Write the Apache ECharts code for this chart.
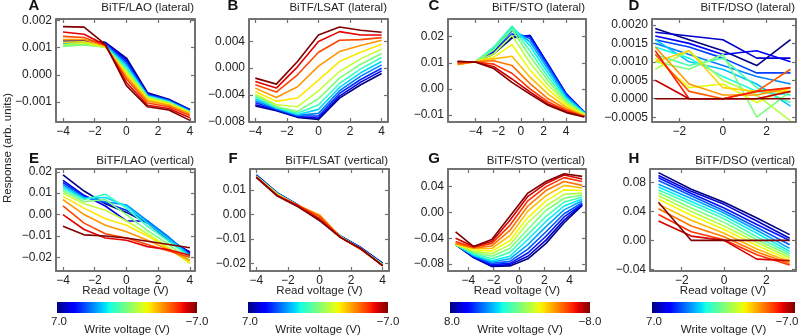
<!DOCTYPE html>
<html>
<head>
<meta charset="utf-8">
<script src="https://cdn.jsdelivr.net/npm/echarts@6/dist/echarts.min.js"></script>
<style>
html,body{margin:0;padding:0;background:#fff;}
#chart{width:800px;height:336px;}
</style>
</head>
<body>
<div id="chart"></div>
<script>
// ---- Read voltages (V) sampled in each panel ----
const readA = [-4, -2.67, -1.33, 0, 1.33, 2.67, 4];
const readB = [-4, -2.67, -1.33, 0, 1.33, 2.67, 4];
const readC = [-5.6, -4.0, -2.4, -0.8, 0.8, 2.4, 4.0, 5.6];
const readD = [-3.1, -1.55, 0, 1.55, 3.1];
const readE = [-4, -2.67, -1.33, 0, 1.33, 2.67, 4];
const readF = [-4, -2.67, -1.33, 0, 1.33, 2.67, 4];
const readG = [-5.0, -3.57, -2.14, -0.71, 0.71, 2.14, 3.57, 5.0];
const readH = [-3.1, -1.55, 0, 1.55, 3.1];

// ---- Write voltages (V), one per curve ----
const writeA = [7.0, 5.8, 4.7, 3.5, 2.3, 1.2, 0.0, -1.2, -2.3, -3.5, -4.7, -5.8, -7.0];
const writeB = [7.0, 5.8, 4.7, 3.5, 2.3, 1.2, 0.0, -1.2, -2.3, -3.5, -4.7, -5.8, -7.0];
const writeC = [8.0, 6.9, 5.7, 4.6, 3.4, 2.3, 1.1, 0.0, -1.1, -2.3, -3.4, -4.6, -5.7, -6.9, -8.0];
const writeD = [7.0, 6.1, 5.3, 4.4, 3.5, 2.6, 1.8, 0.9, 0.0, -0.9, -1.8, -2.6, -3.5, -4.4, -5.3, -6.1, -7.0];
const writeE = [7.0, 5.8, 4.7, 3.5, 2.3, 1.2, 0.0, -1.2, -2.3, -3.5, -4.7, -5.8, -7.0];
const writeF = [7.0, 5.8, 4.7, 3.5, 2.3, 1.2, 0.0, -1.2, -2.3, -3.5, -4.7, -5.8, -7.0];
const writeG = [8.0, 6.9, 5.7, 4.6, 3.4, 2.3, 1.1, 0.0, -1.1, -2.3, -3.4, -4.6, -5.7, -6.9, -8.0];
const writeH = [7.0, 6.0, 5.0, 4.0, 3.0, 2.0, 1.0, 0.0, -1.0, -2.0, -3.0, -4.0, -5.0, -6.0, -7.0];

// ---- Responses (arb. units), one row per write voltage ----
const respA = [
  [0.00125, 0.00126, 0.00120, 0.00062, -0.00066, -0.00090, -0.00128],
  [0.00122, 0.00124, 0.00118, 0.00055, -0.00070, -0.00092, -0.00130],
  [0.00120, 0.00121, 0.00115, 0.00048, -0.00072, -0.00094, -0.00131],
  [0.00116, 0.00118, 0.00112, 0.00040, -0.00075, -0.00096, -0.00133],
  [0.00112, 0.00115, 0.00108, 0.00032, -0.00078, -0.00098, -0.00135],
  [0.00108, 0.00112, 0.00104, 0.00025, -0.00080, -0.00100, -0.00136],
  [0.00105, 0.00110, 0.00102, 0.00018, -0.00082, -0.00102, -0.00138],
  [0.00112, 0.00116, 0.00102, 0.00010, -0.00085, -0.00104, -0.00139],
  [0.00120, 0.00122, 0.00104, 0.00002, -0.00090, -0.00108, -0.00141],
  [0.00130, 0.00130, 0.00106, -0.00006, -0.00096, -0.00112, -0.00144],
  [0.00142, 0.00138, 0.00108, -0.00015, -0.00104, -0.00118, -0.00150],
  [0.00158, 0.00150, 0.00110, -0.00028, -0.00112, -0.00124, -0.00158],
  [0.00178, 0.00176, 0.00112, -0.00040, -0.00118, -0.00130, -0.00168]
];
const respB = [
  [-0.0057, -0.0064, -0.0074, -0.0077, -0.0045, -0.0025, -0.0008],
  [-0.0055, -0.0063, -0.0073, -0.0075, -0.0042, -0.0021, -0.0004],
  [-0.0052, -0.0062, -0.0072, -0.0072, -0.0038, -0.0017, 0.0000],
  [-0.0049, -0.0061, -0.0071, -0.0068, -0.0034, -0.0012, 0.0005],
  [-0.0046, -0.0060, -0.0070, -0.0062, -0.0029, -0.0007, 0.0010],
  [-0.0043, -0.0059, -0.0068, -0.0055, -0.0023, -0.0001, 0.0016],
  [-0.0041, -0.0058, -0.0065, -0.0046, -0.0015, 0.0006, 0.0022],
  [-0.0039, -0.0055, -0.0058, -0.0034, -0.0005, 0.0014, 0.0029],
  [-0.0035, -0.0050, -0.0045, -0.0018, 0.0010, 0.0024, 0.0036],
  [-0.0030, -0.0044, -0.0028, 0.0003, 0.0025, 0.0034, 0.0042],
  [-0.0025, -0.0036, -0.0010, 0.0024, 0.0042, 0.0043, 0.0046],
  [-0.0020, -0.0030, 0.0002, 0.0040, 0.0055, 0.0050, 0.0050],
  [-0.0015, -0.0024, 0.0010, 0.0050, 0.0062, 0.0057, 0.0054]
];
const respC = [
  [0.0103, 0.0103, 0.0135, 0.0195, 0.0205, 0.0090, -0.0020, -0.0090],
  [0.0103, 0.0103, 0.0140, 0.0200, 0.0205, 0.0095, -0.0018, -0.0089],
  [0.0103, 0.0103, 0.0145, 0.0210, 0.0200, 0.0092, -0.0020, -0.0089],
  [0.0103, 0.0104, 0.0150, 0.0222, 0.0192, 0.0085, -0.0024, -0.0090],
  [0.0103, 0.0104, 0.0155, 0.0232, 0.0180, 0.0074, -0.0030, -0.0091],
  [0.0102, 0.0104, 0.0160, 0.0240, 0.0165, 0.0060, -0.0036, -0.0093],
  [0.0102, 0.0105, 0.0160, 0.0238, 0.0145, 0.0045, -0.0042, -0.0095],
  [0.0100, 0.0105, 0.0150, 0.0228, 0.0125, 0.0030, -0.0048, -0.0097],
  [0.0098, 0.0105, 0.0135, 0.0205, 0.0100, 0.0015, -0.0055, -0.0099],
  [0.0095, 0.0105, 0.0122, 0.0170, 0.0072, -0.0002, -0.0062, -0.0101],
  [0.0093, 0.0104, 0.0115, 0.0125, 0.0045, -0.0020, -0.0070, -0.0103],
  [0.0095, 0.0104, 0.0108, 0.0090, 0.0020, -0.0038, -0.0077, -0.0105],
  [0.0100, 0.0103, 0.0095, 0.0060, 0.0000, -0.0050, -0.0083, -0.0106],
  [0.0105, 0.0103, 0.0085, 0.0038, -0.0012, -0.0058, -0.0088, -0.0107],
  [0.0106, 0.0102, 0.0078, 0.0025, -0.0020, -0.0063, -0.0091, -0.0108]
];
const respD = [
  [0.0019, 0.0016, 0.0013, 0.0009, 0.0016],
  [0.0018, 0.0017, 0.0016, 0.0011, 0.0011],
  [0.0017, 0.0015, 0.0012, 0.0013, 0.0010],
  [0.0016, 0.0014, 0.0011, 0.0007, 0.0007],
  [0.0015, 0.0012, 0.0009, 0.0006, 0.0004],
  [0.0016, 0.0010, 0.0008, 0.0004, -0.0002],
  [0.0014, 0.0011, 0.0006, 0.0002, 0.0001],
  [0.0012, 0.0009, 0.0011, 0.0003, -0.0001],
  [0.0010, 0.0008, 0.0012, -0.0005, 0.0002],
  [0.0008, 0.0013, 0.0005, 0.0001, -0.0006],
  [0.0011, 0.0003, 0.0004, -0.0001, 0.0003],
  [0.0010, 0.0013, 0.0003, 0.0002, 0.0002],
  [0.0014, 0.0004, 0.0001, 0.0001, 0.0003],
  [0.0012, 0.0002, 0.0000, 0.0002, 0.0008],
  [0.0013, 0.0000, 0.0000, 0.0002, 0.0003],
  [0.0005, 0.0000, 0.0000, 0.0000, 0.0002],
  [0.0000, 0.0000, 0.0000, 0.0000, 0.0000]
];
const respE = [
  [0.0185, 0.0110, 0.0050, 0.0010, -0.0040, -0.0120, -0.0175],
  [0.0160, 0.0090, 0.0040, -0.0030, -0.0030, -0.0115, -0.0180],
  [0.0150, 0.0085, 0.0055, 0.0020, -0.0035, -0.0110, -0.0185],
  [0.0140, 0.0080, 0.0060, 0.0045, -0.0030, -0.0105, -0.0190],
  [0.0130, 0.0075, 0.0080, 0.0040, -0.0040, -0.0115, -0.0195],
  [0.0120, 0.0070, 0.0095, 0.0030, -0.0055, -0.0125, -0.0200],
  [0.0110, 0.0060, 0.0070, 0.0000, -0.0075, -0.0140, -0.0215],
  [0.0100, 0.0050, 0.0020, -0.0030, -0.0090, -0.0155, -0.0230],
  [0.0085, 0.0030, -0.0020, -0.0050, -0.0100, -0.0160, -0.0225],
  [0.0070, 0.0000, -0.0050, -0.0080, -0.0120, -0.0165, -0.0215],
  [0.0040, -0.0040, -0.0090, -0.0110, -0.0140, -0.0170, -0.0200],
  [0.0000, -0.0070, -0.0110, -0.0120, -0.0150, -0.0165, -0.0190],
  [-0.0055, -0.0095, -0.0100, -0.0110, -0.0125, -0.0140, -0.0155]
];
const respF = [
  [0.0162, 0.0088, 0.0038, -0.0022, -0.0088, -0.0138, -0.0200],
  [0.0160, 0.0087, 0.0037, -0.0023, -0.0089, -0.0139, -0.0202],
  [0.0159, 0.0086, 0.0036, -0.0024, -0.0090, -0.0140, -0.0203],
  [0.0158, 0.0086, 0.0036, -0.0022, -0.0090, -0.0141, -0.0204],
  [0.0157, 0.0085, 0.0035, -0.0021, -0.0091, -0.0142, -0.0205],
  [0.0156, 0.0084, 0.0035, -0.0020, -0.0091, -0.0143, -0.0206],
  [0.0155, 0.0083, 0.0034, -0.0018, -0.0092, -0.0143, -0.0207],
  [0.0155, 0.0082, 0.0034, -0.0012, -0.0092, -0.0144, -0.0208],
  [0.0154, 0.0081, 0.0035, -0.0005, -0.0093, -0.0144, -0.0209],
  [0.0154, 0.0080, 0.0036, -0.0002, -0.0093, -0.0145, -0.0209],
  [0.0153, 0.0078, 0.0036, -0.0008, -0.0094, -0.0145, -0.0210],
  [0.0153, 0.0077, 0.0034, -0.0018, -0.0094, -0.0144, -0.0210],
  [0.0152, 0.0075, 0.0030, -0.0025, -0.0095, -0.0142, -0.0211]
];
const respG = [
  [-0.050, -0.070, -0.084, -0.083, -0.072, -0.048, -0.016, 0.011],
  [-0.050, -0.070, -0.083, -0.081, -0.068, -0.043, -0.012, 0.012],
  [-0.050, -0.069, -0.081, -0.079, -0.063, -0.037, -0.007, 0.013],
  [-0.050, -0.068, -0.079, -0.076, -0.057, -0.030, -0.002, 0.015],
  [-0.050, -0.067, -0.077, -0.072, -0.050, -0.022, 0.004, 0.018],
  [-0.050, -0.066, -0.075, -0.068, -0.042, -0.014, 0.010, 0.021],
  [-0.050, -0.064, -0.072, -0.062, -0.034, -0.006, 0.016, 0.024],
  [-0.050, -0.062, -0.068, -0.056, -0.026, 0.003, 0.022, 0.027],
  [-0.050, -0.060, -0.064, -0.050, -0.016, 0.010, 0.028, 0.030],
  [-0.050, -0.058, -0.060, -0.044, -0.008, 0.018, 0.035, 0.034],
  [-0.048, -0.056, -0.056, -0.036, 0.002, 0.026, 0.042, 0.038],
  [-0.048, -0.055, -0.052, -0.028, 0.010, 0.034, 0.048, 0.042],
  [-0.045, -0.054, -0.048, -0.020, 0.018, 0.040, 0.054, 0.048],
  [-0.040, -0.053, -0.045, -0.012, 0.025, 0.045, 0.058, 0.052],
  [-0.030, -0.053, -0.042, -0.006, 0.030, 0.048, 0.060, 0.056]
];
const respH = [
  [0.094, 0.071, 0.053, 0.031, 0.008],
  [0.090, 0.068, 0.050, 0.027, 0.003],
  [0.087, 0.065, 0.045, 0.022, 0.000],
  [0.083, 0.062, 0.041, 0.018, -0.006],
  [0.078, 0.058, 0.038, 0.014, -0.011],
  [0.074, 0.054, 0.034, 0.010, -0.015],
  [0.070, 0.050, 0.030, 0.005, -0.018],
  [0.066, 0.045, 0.025, 0.001, -0.021],
  [0.062, 0.040, 0.020, -0.003, -0.024],
  [0.057, 0.035, 0.015, -0.007, -0.027],
  [0.050, 0.028, 0.010, -0.012, -0.030],
  [0.044, 0.020, 0.005, -0.016, -0.032],
  [0.036, 0.012, 0.001, -0.020, -0.034],
  [0.027, 0.006, 0.000, -0.026, -0.028],
  [0.053, 0.000, 0.000, 0.000, 0.000]
];

// ---- Tick values ----
const xTicks4 = [-4, -2, 0, 2, 4];
const xTicks2 = [-2, 0, 2];
const yTicksA = [-0.001, 0.000, 0.001, 0.002];
const yTicksB = [-0.008, -0.004, 0.000, 0.004];
const yTicksC = [-0.01, 0.00, 0.01, 0.02];
const yTicksD = [-0.0005, 0.0000, 0.0005, 0.0010, 0.0015, 0.0020];
const yTicksE = [-0.02, -0.01, 0.00, 0.01, 0.02];
const yTicksF = [-0.02, -0.01, 0.00, 0.01];
const yTicksG = [-0.08, -0.04, 0.00, 0.04];
const yTicksH = [-0.04, 0.00, 0.04, 0.08];

// ---- Colour-bar end labels (write voltage range per column) ----
const barRange7 = [7.0, -7.0];
const barRange8 = [8.0, -8.0];

// ---- Panel layout ----
const FONT = '"Liberation Sans", Arial, sans-serif';
const panels = [
  {letter:'A', title:'BiTF/LAO (lateral)',  read:readA, write:writeA, resp:respA, wr:barRange7, xt:xTicks4, yt:yTicksA, dec:3, box:[56,19,139,103], xr:[-4.44,4.32], yr:[-0.00174,0.00206]},
  {letter:'B', title:'BiTF/LSAT (lateral)', read:readB, write:writeB, resp:respB, wr:barRange7, xt:xTicks4, yt:yTicksB, dec:3, box:[249,19,139,103], xr:[-4.4,4.4], yr:[-0.0081,0.0074]},
  {letter:'C', title:'BiTF/STO (lateral)',  read:readC, write:writeC, resp:respC, wr:barRange8, xt:xTicks4, yt:yTicksC, dec:2, box:[448,19,138,103], xr:[-6.45,5.75], yr:[-0.0127,0.0268]},
  {letter:'D', title:'BiTF/DSO (lateral)',  read:readD, write:writeD, resp:respD, wr:barRange7, xt:xTicks2, yt:yTicksD, dec:4, box:[652,19,144,103], xr:[-3.25,3.35], yr:[-0.00063,0.00216]},
  {letter:'E', title:'BiTF/LAO (vertical)', read:readE, write:writeE, resp:respE, wr:barRange7, xt:xTicks4, yt:yTicksE, dec:2, box:[56,169,139,102], xr:[-4.44,4.32], yr:[-0.0264,0.0213]},
  {letter:'F', title:'BiTF/LSAT (vertical)',read:readF, write:writeF, resp:respF, wr:barRange7, xt:xTicks4, yt:yTicksF, dec:2, box:[250,169,139,102], xr:[-4.4,4.4], yr:[-0.0232,0.0186]},
  {letter:'G', title:'BiTF/STO (vertical)', read:readG, write:writeG, resp:respG, wr:barRange8, xt:xTicks4, yt:yTicksG, dec:2, box:[448,169,138,102], xr:[-5.6,5.3], yr:[-0.0909,0.0674]},
  {letter:'H', title:'BiTF/DSO (vertical)', read:readH, write:writeH, resp:respH, wr:barRange7, xt:xTicks2, yt:yTicksH, dec:2, box:[650,169,146,102], xr:[-3.5,3.4], yr:[-0.0424,0.099]}
];
const letterX = [34, 233, 434, 634, 34, 233, 434, 634];
const colorBars = [
  {x:57, w:140, range:barRange7},
  {x:248, w:140, range:barRange7},
  {x:450, w:140, range:barRange8},
  {x:652, w:143, range:barRange7}
];

// jet colour map, t in [0,1]
function jet(t) {
  t = Math.max(0, Math.min(1, t));
  const f = pts => {
    for (let k = 1; k < pts.length; k++) {
      if (t <= pts[k][0]) {
        const [x0, y0] = pts[k - 1], [x1, y1] = pts[k];
        return y0 + (y1 - y0) * (t - x0) / (x1 - x0);
      }
    }
    return pts[pts.length - 1][1];
  };
  const r = f([[0,0],[0.35,0],[0.66,1],[0.89,1],[1,0.5]]);
  const g = f([[0,0],[0.125,0],[0.375,1],[0.64,1],[0.91,0],[1,0]]);
  const b = f([[0,0.5],[0.11,1],[0.34,1],[0.65,0],[1,0]]);
  return 'rgb(' + Math.round(r*255) + ',' + Math.round(g*255) + ',' + Math.round(b*255) + ')';
}

const fmt = dec => v => (v < -1e-12 ? '\u2212' : '') + Math.abs(v).toFixed(dec);
const fmtInt = v => (v < 0 ? '\u2212' : '') + Math.abs(v);

const grids = [], xAxes = [], yAxes = [], series = [], graphics = [];
const frame = '#707070';
const edge = {show:true, onZero:false, lineStyle:{color:frame, width:1.5}};
const tick = vals => ({show:true, inside:true, length:4, customValues:vals, lineStyle:{color:frame, width:1.2}});

panels.forEach((p, i) => {
  const [l, t, w, h] = p.box;
  grids.push({left:l, top:t, width:w, height:h, show:true, borderWidth:1.5, borderColor:frame, backgroundColor:'rgba(0,0,0,0)'});
  // bottom (labelled) and top (ticks only) x axes
  xAxes.push({
    type:'value', gridIndex:i, min:p.xr[0], max:p.xr[1], position:'bottom',
    splitLine:{show:false}, axisLine:edge, axisTick:tick(p.xt),
    axisLabel:{customValues:p.xt, formatter:fmtInt, margin:4, fontSize:12, color:'#222', fontFamily:FONT}
  });
  xAxes.push({
    type:'value', gridIndex:i, min:p.xr[0], max:p.xr[1], position:'top',
    splitLine:{show:false}, axisLine:edge, axisTick:tick(p.xt), axisLabel:{show:false}
  });
  // left (labelled) and right (ticks only) y axes
  yAxes.push({
    type:'value', gridIndex:i, min:p.yr[0], max:p.yr[1], position:'left',
    splitLine:{show:false}, axisLine:edge, axisTick:tick(p.yt),
    axisLabel:{customValues:p.yt, formatter:fmt(p.dec), margin:4, fontSize:12, color:'#222', fontFamily:FONT}
  });
  yAxes.push({
    type:'value', gridIndex:i, min:p.yr[0], max:p.yr[1], position:'right',
    splitLine:{show:false}, axisLine:edge, axisTick:tick(p.yt), axisLabel:{show:false}
  });

  const span = p.wr[0] - p.wr[1];
  p.resp.forEach((row, j) => {
    series.push({
      type:'line', xAxisIndex:2 * i, yAxisIndex:2 * i,
      data:p.read.map((x, k) => [x, row[k]]),
      symbol:'none', silent:true, clip:true,
      lineStyle:{color:jet((p.wr[0] - p.write[j]) / span), width:1.6},
      z:2
    });
  });

  // plot frame as four edge lines over the panel area
  const L = l, R = l + w, T = t, B = t + h;
  const edgeLine = (a, b, c, d) => ({type:'line', z:100, silent:true,
    shape:{x1:a, y1:b, x2:c, y2:d}, style:{stroke:frame, lineWidth:1.5}});
  graphics.push(edgeLine(L, T, R, T), edgeLine(R, T, R, B), edgeLine(R, B, L, B), edgeLine(L, B, L, T));

  // panel letter and title
  const rowY = i < 4 ? 6 : 159;
  graphics.push({type:'text', style:{text:p.letter, x:letterX[i], y:rowY, align:'center', verticalAlign:'middle',
    font:'bold 15px ' + FONT, fill:'#111'}});
  graphics.push({type:'text', style:{text:p.title, x:l + w - 1, y:rowY + 2, align:'right', verticalAlign:'middle',
    font:'11.5px ' + FONT, fill:'#222'}});
  if (i >= 4) {
    graphics.push({type:'text', style:{text:'Read voltage (V)', x:l + w / 2, y:291, align:'center', verticalAlign:'middle',
      font:'11.5px ' + FONT, fill:'#222'}});
  }
});

// colour bars for write voltage
const stops = [];
for (let k = 0; k <= 40; k++) stops.push({offset:k / 40, color:jet(k / 40)});
colorBars.forEach(cb => {
  graphics.push({type:'rect', shape:{x:cb.x, y:302, width:cb.w, height:11},
    style:{fill:{type:'linear', x:0, y:0, x2:1, y2:0, colorStops:stops}}});
  graphics.push({type:'text', style:{text:cb.range[0].toFixed(1), x:cb.x + 2, y:322, align:'center', verticalAlign:'middle',
    font:'11.5px ' + FONT, fill:'#222'}});
  graphics.push({type:'text', style:{text:fmt(1)(cb.range[1]), x:Math.min(cb.x + cb.w, 787), y:322, align:'center', verticalAlign:'middle',
    font:'11.5px ' + FONT, fill:'#222'}});
  graphics.push({type:'text', style:{text:'Write voltage (V)', x:cb.x + cb.w / 2, y:330, align:'center', verticalAlign:'middle',
    font:'11.5px ' + FONT, fill:'#222'}});
});

// shared y-axis title
graphics.push({type:'text', x:8, y:148, rotation:Math.PI / 2,
  style:{text:'Response (arb. units)', x:0, y:0, align:'center', verticalAlign:'middle', font:'11.5px ' + FONT, fill:'#222'}});

const chart = echarts.init(document.getElementById('chart'), null, {renderer:'canvas'});
chart.setOption({
  animation:false,
  backgroundColor:'#fff',
  grid:grids,
  xAxis:xAxes,
  yAxis:yAxes,
  series:series,
  graphic:{elements:graphics}
});
</script>
</body>
</html>
